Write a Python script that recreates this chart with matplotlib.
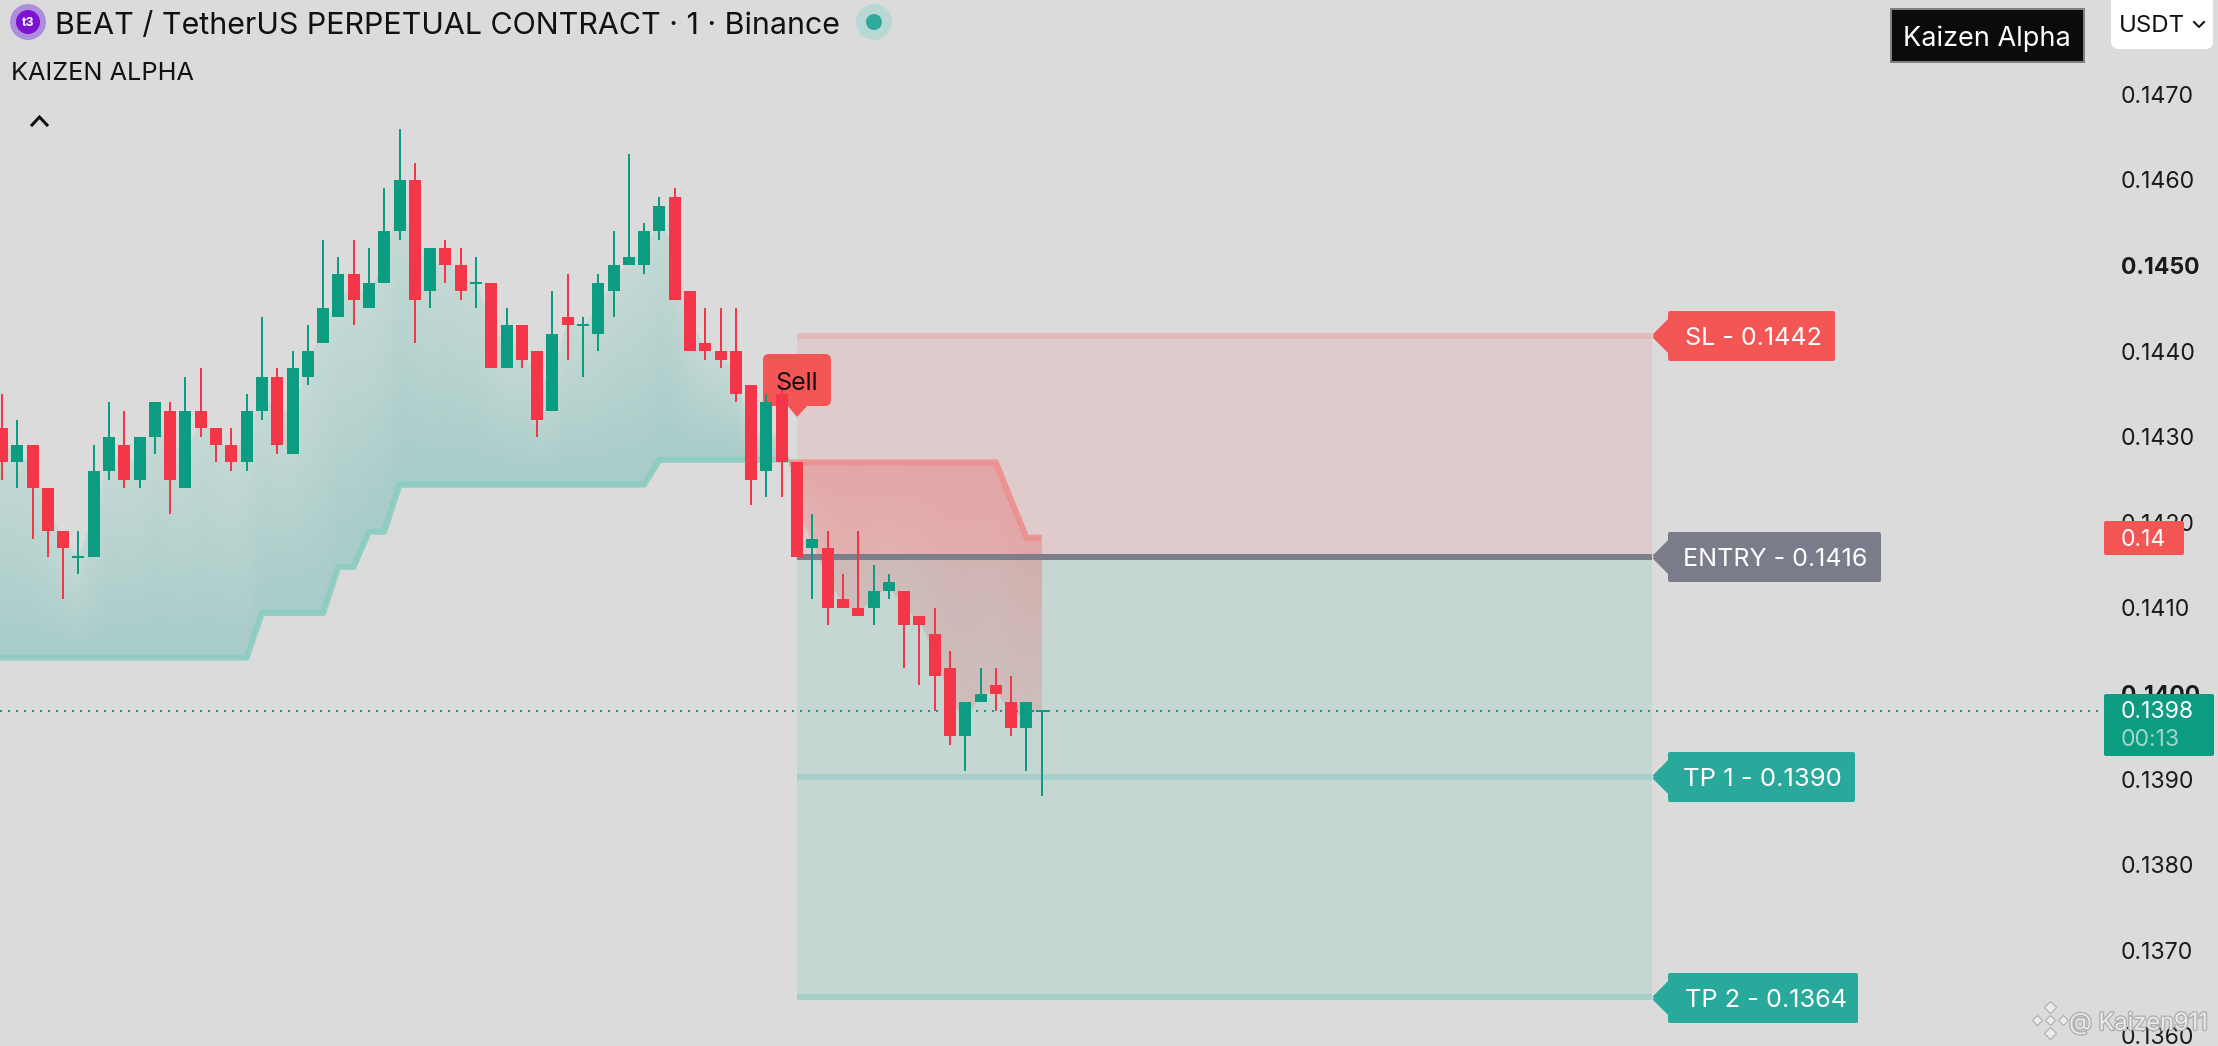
import numpy as np
import matplotlib
matplotlib.use("Agg")
import matplotlib.pyplot as plt
from matplotlib.patches import FancyBboxPatch, PathPatch, Rectangle, Circle
from matplotlib.path import Path
from matplotlib.transforms import Affine2D
import matplotlib.patheffects as pe

plt.rcParams['font.family'] = ['Inter', 'DejaVu Sans']

opens = [.1431,.1427,.1429,.1424,.1419,.1416,.1416,.1426,.1429,.1425,.1430,.1433,.1424,.1433,.1431,.1429,.1427,.1433,.1437,.1428,.1437,.1441,.1444,.1449,.1445,.1448,.1454,.1460,.1447,.1452,.1450,.1448,.1448,.1438,.1443,.1440,.1433,.1444,.1443,.1442,.1447,.1450,.1450,.1454,.1458,.1447,.1441,.1440,.1440,.1436,.1426,.1435,.1427,.1417,.1417,.1411,.1410,.1410,.1412,.1412,.1409,.1407,.1403,.1395,.1399,.1401,.1399,.1396,.1398]
highs = [.1435,.1432,.1429,.1424,.1419,.1419,.1429,.1434,.1433,.1430,.1434,.1434,.1437,.1438,.1431,.1431,.1435,.1444,.1438,.1440,.1443,.1453,.1451,.1453,.1452,.1459,.1466,.1462,.1452,.1453,.1452,.1451,.1448,.1445,.1443,.1440,.1447,.1449,.1444,.1449,.1454,.1463,.1455,.1458,.1459,.1447,.1445,.1445,.1445,.1436,.1435,.14366,.1427,.1421,.1419,.1414,.1419,.1415,.1414,.1412,.1409,.1410,.1405,.1399,.1403,.1403,.1402,.1399,.1398]
lows = [.1425,.1424,.1418,.1416,.1411,.1414,.1416,.1425,.1424,.1424,.1428,.1421,.1424,.1430,.1427,.1426,.1426,.1432,.1428,.1428,.1436,.1441,.1444,.1443,.1445,.1448,.1453,.1441,.1445,.1448,.1446,.1445,.1438,.1438,.1438,.1430,.1433,.1439,.1437,.1440,.1444,.1450,.1449,.1453,.1446,.1440,.1439,.1438,.1434,.1422,.1423,.1423,.1416,.1411,.1408,.1410,.1409,.1408,.1411,.1403,.1401,.1398,.1394,.1391,.1399,.1398,.1395,.1391,.1388]
closes = [.1427,.1429,.1424,.1419,.1417,.1416,.1426,.1430,.1425,.1430,.1434,.1425,.1433,.1431,.1429,.1427,.1433,.1437,.1429,.1438,.1440,.1445,.1449,.1446,.1448,.1454,.1460,.1446,.1452,.1450,.1447,.1448,.1438,.1443,.1439,.1432,.1442,.1443,.1443,.1448,.1450,.1451,.1454,.1457,.1446,.1440,.1440,.1439,.1435,.1425,.1434,.1427,.1416,.1418,.1410,.1410,.1409,.1412,.1413,.1408,.1408,.1402,.1395,.1399,.1400,.1400,.1396,.1399,.1398]
is_up = [0,1,0,0,0,1,1,1,0,1,1,0,1,0,0,0,1,1,0,1,1,1,1,0,1,1,1,0,1,0,0,1,0,1,0,0,1,0,1,1,1,1,1,1,0,0,0,0,0,0,1,0,0,1,0,0,0,1,1,0,0,0,0,1,1,0,0,1,1]
trend = [.14042]*17 + [.14094]*5 + [.14148]*2 + [.14189]*2 + [.14244]*17 + [.14273]*9 + [.1427]*14 + [.14226, .14182, .14182]
price_ticks = [.1470,.1460,.1450,.1440,.1430,.1420,.1410,.1400,.1390,.1380,.1370,.1360]
bold_ticks = [.1450,.1400]
sl_level, entry_level, tp1_level, tp2_level = .14418, .1416, .13903, .13645
last_price = .1398
flip_bar = 51.5
position_start, position_end = 52.0, 107.9
title = "BEAT / TetherUS PERPETUAL CONTRACT · 1 · Binance"
sl_text, entry_text, tp1_text, tp2_text = "SL - 0.1442", "ENTRY - 0.1416", "TP 1 - 0.1390", "TP 2 - 0.1364"

BG = '#dbdbdb'; UP = '#0b9c82'; DOWN = '#f33648'; TAGRED = '#f45555'
VA = 'center_baseline'
W, H = 2218, 1046
fig = plt.figure(figsize=(W/100, H/100), dpi=100, facecolor=BG)
ax = fig.add_axes([0, 0, 2112/W, 1], facecolor=BG)
PX = Affine2D().scale(1, -1).translate(0, H)   # pixel coordinates for interface furniture
PT = 0.72

n = len(opens)
x = np.arange(n)
O, Hi, L, C = map(np.array, (opens, highs, lows, closes))
T = np.array(trend)
mid = (O + C) / 2
ymin, ymax = .135883, .148101

# position boxes
ax.add_patch(Rectangle((position_start, entry_level), position_end-position_start, sl_level-entry_level, fc='#dfcbcb', ec='none', zorder=1))
ax.add_patch(Rectangle((position_start, tp2_level), position_end-position_start, entry_level-tp2_level, fc='#c5d6d3', ec='none', zorder=1))

# indicator gradients
xg = np.linspace(-0.2, 68, 1050)
yg = np.linspace(ymin, ymax, 1046)
xb = np.r_[-1, x]
tg = np.interp(xg, xb, np.r_[T[0], T])
mg = np.interp(xg, xb, np.r_[mid[0], mid])
img = np.zeros((len(yg), len(xg), 4))
c_low, c_high = np.array([167, 204, 201])/255, np.array([198, 217, 213])/255
red = np.array([240, 80, 80])/255
for j in range(len(xg)):
    d = mg[j] - tg[j]
    if xg[j] <= flip_bar and d > 0:
        s = (yg >= tg[j]) & (yg <= mg[j])
        t = (yg[s] - tg[j]) / d
        img[s, j, :3] = c_low + np.outer(t, c_high - c_low)
        img[s, j, 3] = 1
    elif xg[j] > flip_bar - 0.1 and d < 0:
        s = (yg <= tg[j]) & (yg >= mg[j])
        t = (tg[j] - yg[s]) / (-d)
        img[s, j, :3] = red
        img[s, j, 3] = 0.30 - 0.12*t
ax.imshow(img, extent=[xg[0], xg[-1], ymin, ymax], origin='lower', aspect='auto', zorder=2, interpolation='nearest')

# indicator lines
gx = np.r_[-1, x[x <= 51], flip_bar]
gy = np.r_[T[0], T[:52], T[51]]
ax.plot(gx, gy, color='#8ccdc1', lw=6*PT, zorder=3, solid_capstyle='butt', solid_joinstyle='round', alpha=.9)
rx = np.r_[flip_bar, x[x >= 52]]
ry = np.r_[T[52], T[52:]]
ax.plot(rx, ry, color='#ee8f8f', lw=6*PT, zorder=3, solid_capstyle='butt', solid_joinstyle='round', alpha=.9)

# level lines
for lv, col in ((sl_level, '#e5baba'), (tp1_level, '#a5cfc9'), (tp2_level, '#a5cfc9'), (entry_level, '#7d7e8c')):
    ax.hlines(lv, position_start, position_end, color=col, lw=6*PT, zorder=3.5)

# last price line
ax.axhline(last_price, color=UP, lw=2*PT, ls=(0, (1, 3)), zorder=3.6)

# sell label below the candles
ax.add_patch(FancyBboxPatch((763, 354), 68, 52, boxstyle='round,pad=0,rounding_size=6', fc=TAGRED, ec='none', transform=PX, zorder=4, clip_on=False))
ax.add_patch(PathPatch(Path([(787, 405), (808, 405), (797, 417), (787, 405)]), fc=TAGRED, ec='none', transform=PX, zorder=4))

# candles
cols = [UP if u else DOWN for u in is_up]
ax.vlines(x, L, Hi, colors=cols, lw=2*PT, zorder=5)
ax.bar(x, np.abs(C-O), bottom=np.minimum(O, C), width=12/15.29, color=cols, zorder=5.1)
doji = np.where(O == C)[0]
ax.hlines(C[doji], doji-6/15.29, doji+6/15.29, colors=[cols[i] for i in doji], lw=2*PT, zorder=5.1)

ax.text(797, 381, "Sell", transform=PX, color='#111111', fontsize=18, ha='center', va=VA, zorder=5.5)

# axes
ax.set_xlim(-2/15.29, 138.0)
ax.set_ylim(ymin, ymax)
ax.xaxis.set_visible(False)
ax.yaxis.tick_right()
ax.set_yticks(price_ticks)
ax.set_yticklabels([f"{p:.4f}" for p in price_ticks])
ax.tick_params(axis='y', length=0, pad=6.5, labelsize=16.6, labelcolor='#1a1a1a')
for lab, p in zip(ax.get_yticklabels(), price_ticks):
    lab.set_verticalalignment(VA)
    if p in bold_ticks:
        lab.set_fontweight('bold')
for s in ax.spines.values():
    s.set_visible(False)

# level tags
def tag(x1, y0, y1, color, text, tx, fs):
    cy = (y0+y1)/2
    ins = [(1654, cy), (1670, cy-16), (1670, y0+2), (x1-2, y0+2), (x1-2, y1-2), (1670, y1-2), (1670, cy+16), (1654, cy)]
    ax.add_patch(PathPatch(Path(ins), fc=color, ec=color, lw=4*PT, joinstyle='round', transform=PX, zorder=8, clip_on=False))
    ax.text(tx, cy, text, transform=PX, color='white', fontsize=fs, ha='left', va=VA, zorder=9)

tag(1835, 311, 361, TAGRED, sl_text, 1685, 18)
tag(1881, 532, 582, '#7b7c89', entry_text, 1683, 18)
tag(1855, 752, 802, '#29a99b', tp1_text, 1683, 18.5)
tag(1858, 973, 1023, '#29a99b', tp2_text, 1685, 18.2)

# price tags
ax.add_patch(FancyBboxPatch((2104, 521), 80, 34, boxstyle='round,pad=0,rounding_size=2', fc=TAGRED, ec='none', transform=PX, zorder=8, clip_on=False))
ax.text(2121, 538, "0.14", transform=PX, color='white', fontsize=16.6, va=VA, zorder=9)
ax.add_patch(FancyBboxPatch((2104, 694), 110, 62, boxstyle='round,pad=0,rounding_size=2', fc=UP, ec='none', transform=PX, zorder=8, clip_on=False))
ax.text(2121, 710, "0.1398", transform=PX, color='white', fontsize=16.6, va=VA, zorder=9)
ax.text(2121, 738, "00:13", transform=PX, color='#9fd6ca', fontsize=16.6, va=VA, zorder=9)

# header
ax.add_patch(Circle((28, 22), 18, fc='#ad8ede', ec='none', transform=PX, zorder=8, clip_on=False))
ax.add_patch(Circle((28, 22), 12, fc='#7d12d2', ec='none', transform=PX, zorder=8.1, clip_on=False))
ax.text(28, 22, "t3", transform=PX, color='white', fontsize=9, fontweight='bold', ha='center', va=VA, zorder=9)
ax.text(55, 23, title, transform=PX, color='#111111', fontsize=21.9, ha='left', va=VA, zorder=9)
ax.add_patch(Circle((874, 22), 18, fc='#b9d8d3', ec='none', transform=PX, zorder=8, clip_on=False))
ax.add_patch(Circle((874, 22), 8, fc='#2eaa9c', ec='none', transform=PX, zorder=8.1, clip_on=False))
ax.text(11, 71, "KAIZEN ALPHA", transform=PX, color='#111111', fontsize=18.2, ha='left', va=VA, zorder=9)
ax.plot([32, 39.5, 47], [125, 117, 125], color='#111111', lw=3*PT, transform=PX, zorder=9, clip_on=False, solid_joinstyle='miter')

ax.add_patch(Rectangle((1891, 9), 193, 53, fc='#0b0b0b', ec='#808080', lw=2*PT, transform=PX, zorder=8, clip_on=False))
ax.text(1987, 36, "Kaizen Alpha", transform=PX, color='white', fontsize=19.5, ha='center', va=VA, zorder=9)
ax.add_patch(FancyBboxPatch((2111, -5), 102, 54, boxstyle='round,pad=0,rounding_size=8', fc='white', ec='none', transform=PX, zorder=8, clip_on=False))
ax.text(2119, 24, "USDT", transform=PX, color='#111111', fontsize=17.3, ha='left', va=VA, zorder=9)
ax.plot([2194, 2199, 2204], [22, 27, 22], color='#111111', lw=2*PT, transform=PX, zorder=9, clip_on=False)

# watermark
shadow = [pe.withStroke(linewidth=2.0, foreground='#b0b0b0')]
ax.text(2069, 1021, "@ Kaizen911", transform=PX, color='#e9e9e9', fontsize=17, ha='left', va=VA, zorder=9, path_effects=shadow)
for dx, dy, ms in ((0, -13, 6), (-13, 0, 5), (13, 0, 5), (0, 0, 5), (0, 13, 6)):
    ax.plot([2050+dx], [1020+dy], marker='D', ms=ms, mfc='#ececec', mec='#a8a8a8', mew=.7, transform=PX, zorder=9, clip_on=False)

fig.savefig('out.png', dpi=100, facecolor=BG)
